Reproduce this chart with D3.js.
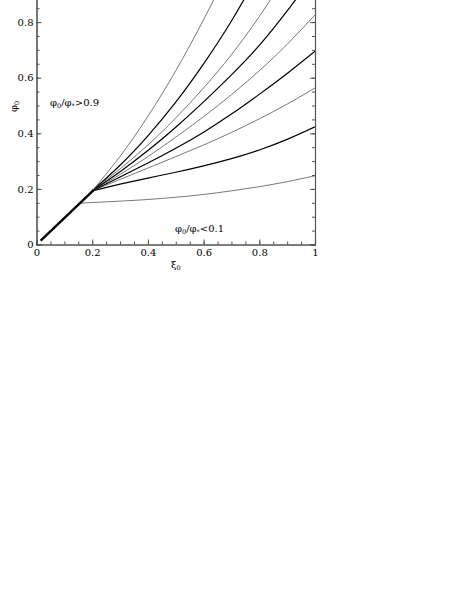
<!DOCTYPE html>
<html><head><meta charset="utf-8">
<script src="https://cdn.jsdelivr.net/npm/d3@7"></script>
<style>body{margin:0;background:#fff}svg{display:block}text{font-family:"DejaVu Serif",serif;fill:#000}</style>
</head><body>
<svg id="c" width="458" height="592"></svg>
<script>
// x positions (xi_0) shared by curves
const xs = [0.2, 0.3, 0.4, 0.5, 0.6, 0.7, 0.8, 0.9, 1.0];
// common initial straight segment
const diagonal = [[0.015, 0.014], [0.205, 0.196]];
// curve 1 branches earlier
const curve1X = [0.16, 0.3, 0.4, 0.5, 0.6, 0.7, 0.8, 0.9, 1.0];
const curve1Y = [0.149, 0.156, 0.162, 0.170, 0.180, 0.193, 0.208, 0.226, 0.247];
const curve2Y = [0.193, 0.217, 0.239, 0.260, 0.283, 0.309, 0.340, 0.378, 0.423];
const curve3Y = [0.193, 0.234, 0.275, 0.316, 0.358, 0.403, 0.452, 0.505, 0.563];
const curve4Y = [0.193, 0.243, 0.293, 0.346, 0.404, 0.469, 0.540, 0.615, 0.695];
const curve5Y = [0.193, 0.252, 0.316, 0.386, 0.460, 0.539, 0.625, 0.720, 0.826];
const curve6Y = [0.193, 0.262, 0.338, 0.422, 0.513, 0.610, 0.716, 0.840, 0.975];
const curve7Y = [0.193, 0.272, 0.358, 0.455, 0.563, 0.683, 0.820, 0.975, 1.150];
const curve8Y = [0.193, 0.285, 0.391, 0.512, 0.650, 0.804, 0.980, 1.170, 1.380];
const curve9Y = [0.193, 0.317, 0.461, 0.625, 0.809, 1.010, 1.230, 1.470, 1.720];
const thick = [false, true, false, true, false, true, false, true, false];
const majorTicks = [0, 0.2, 0.4, 0.6, 0.8, 1];
const tickLabels = ["0", "0.2", "0.4", "0.6", "0.8", "1"];
const minorTicks = d3.range(0, 1.0001, 0.05);

const svg = d3.select("#c");
const x = d3.scaleLinear().domain([0, 1]).range([36.5, 315]);
const y = d3.scaleLinear().domain([0, 1]).range([244.5, -33.5]);

const defs = svg.append("defs");
defs.append("clipPath").attr("id", "clip").append("rect")
  .attr("x", x(0)).attr("y", y(1)).attr("width", x(1) - x(0)).attr("height", y(0) - y(1));

const series = [
  curve1X.map((v, i) => [v, curve1Y[i]]),
  ...[curve2Y, curve3Y, curve4Y, curve5Y, curve6Y, curve7Y, curve8Y, curve9Y].map(ys => xs.map((v, i) => [v, ys[i]]))
];
const line = d3.line().x(d => x(d[0])).y(d => y(d[1])).curve(d3.curveNatural);
const g = svg.append("g").attr("clip-path", "url(#clip)");
series.forEach((s, i) => {
  g.append("path").attr("d", line(s)).attr("fill", "none")
    .attr("stroke", thick[i] ? "#000" : "#555")
    .attr("stroke-width", thick[i] ? 1.2 : 0.8);
});
g.append("path").attr("d", d3.line().x(d => x(d[0])).y(d => y(d[1]))(diagonal))
  .attr("fill", "none").attr("stroke", "#000").attr("stroke-width", 2.4);

// axes
const axCol = "#555";
svg.append("g").attr("transform", `translate(0,${y(0)})`)
  .call(d3.axisBottom(x).tickValues(majorTicks).tickFormat((d, i) => tickLabels[i]).tickSize(-5).tickPadding(4));
svg.append("g").attr("transform", `translate(0,${y(0)})`)
  .call(d3.axisBottom(x).tickValues(minorTicks).tickFormat("").tickSize(-3));
svg.append("g").attr("transform", `translate(${x(0)},0)`)
  .call(d3.axisLeft(y).tickValues(majorTicks.slice(0, 5)).tickFormat((d, i) => tickLabels[i]).tickSize(-5).tickPadding(3));
svg.append("g").attr("transform", `translate(${x(0)},0)`)
  .call(d3.axisLeft(y).tickValues(minorTicks).tickFormat("").tickSize(-3));
svg.append("g").attr("transform", `translate(${x(1)},0)`)
  .call(d3.axisRight(y).tickValues(majorTicks).tickFormat("").tickSize(-5));
svg.append("g").attr("transform", `translate(${x(1)},0)`)
  .call(d3.axisRight(y).tickValues(minorTicks).tickFormat("").tickSize(-3));
svg.append("g").attr("transform", `translate(0,${y(1)})`)
  .call(d3.axisTop(x).tickValues(majorTicks).tickFormat("").tickSize(-5));
svg.selectAll(".domain").attr("stroke", axCol).attr("stroke-width", 1.1);
svg.selectAll(".tick line").attr("stroke", axCol);
svg.selectAll(".tick text").attr("font-family", "DejaVu Serif").attr("font-size", 10).attr("fill", "#000");

// labels with subscripts
function label(t, parts) {
  let shifted = false;
  parts.forEach(p => {
    const ts = t.append("tspan").text(p[0]);
    if (shifted) { ts.attr("dy", -2); shifted = false; }
    if (p[1]) {
      t.append("tspan").text(p[1]).attr("font-size", 6.5).attr("dy", 2);
      shifted = true;
    }
  });
}
label(svg.append("text").attr("x", 50).attr("y", 106).attr("font-size", 10),
  [["φ", "0"], ["/φ", "*"], [">0.9", null]]);
label(svg.append("text").attr("x", 175).attr("y", 232).attr("font-size", 10),
  [["φ", "0"], ["/φ", "*"], ["<0.1", null]]);
label(svg.append("text").attr("transform", "translate(17,112) rotate(-90)").attr("font-size", 10),
  [["φ", "0"]]);
label(svg.append("text").attr("x", 171).attr("y", 268).attr("font-size", 10),
  [["ξ", "0"]]);
</script>
</body></html>
